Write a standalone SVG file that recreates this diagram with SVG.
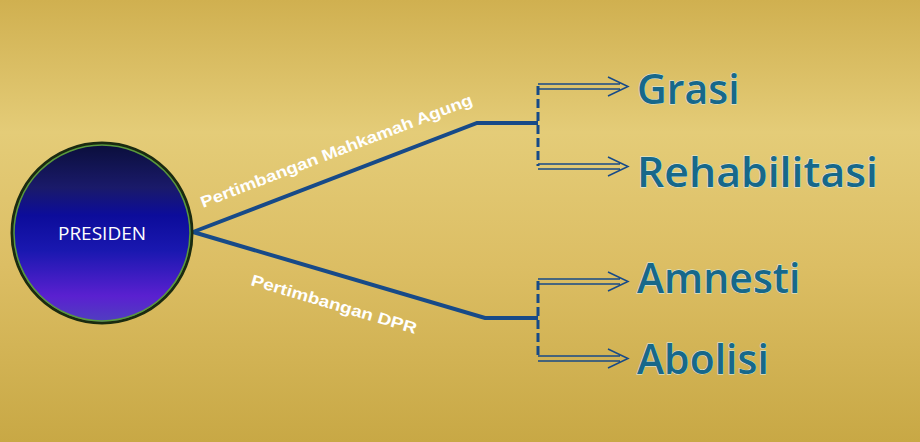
<svg xmlns="http://www.w3.org/2000/svg" width="920" height="442" viewBox="0 0 920 442">
<defs>
<linearGradient id="bg" x1="0" y1="0" x2="0" y2="1">
<stop offset="0" stop-color="#d0b050"/><stop offset="0.3" stop-color="#e4cc78"/><stop offset="0.6" stop-color="#dcbe64"/><stop offset="1" stop-color="#c8a845"/>
</linearGradient>
<linearGradient id="cg" x1="0" y1="0" x2="0" y2="1">
<stop offset="0" stop-color="#0a0e3a"/><stop offset="0.25" stop-color="#1a1a6a"/><stop offset="0.4" stop-color="#0c0c9a"/><stop offset="0.6" stop-color="#1a18b0"/><stop offset="0.85" stop-color="#5a20d0"/><stop offset="1" stop-color="#5040c0"/>
</linearGradient>
<style>
.ln{stroke:#174a88;stroke-width:4;fill:none}
.ds{stroke:#174a88;stroke-width:3;fill:none;stroke-dasharray:9,4}
.ar{stroke:#174a88;stroke-width:1.5;fill:none}
.big{font-family:"Open Sans","DejaVu Sans",sans-serif;font-size:41px;font-weight:600;fill:#17688a;stroke:#d8f0f0;stroke-width:0.8;paint-order:stroke}
.lb{font-family:"Liberation Sans",Arial,sans-serif;font-size:16px;font-weight:bold;fill:#ffffff}
</style>
</defs>
<rect width="920" height="442" fill="url(#bg)"/>
<g id="connectors">
<path class="ln" d="M193 232 L477 123 L538 123"/>
<path class="ln" d="M193 232 L485 318 L538 318"/>
<path class="ds" d="M538 86 V166"/>
<path class="ds" d="M538 281 V358"/>
<path class="ar" d="M538 84 H620 M538 89 H620 M608 77 L628 86.5 L608 96"/>
<path class="ar" d="M538 164 H620 M538 169 H620 M608 157 L628 166.5 L608 176"/>
<path class="ar" d="M538 279 H620 M538 284 H620 M608 272 L628 281.5 L608 291"/>
<path class="ar" d="M538 356 H620 M538 361 H620 M608 349 L628 358.5 L608 368"/>
</g>
<g id="presiden">
<circle cx="102" cy="233" r="90" fill="url(#cg)" stroke="#1a2a10" stroke-width="3"/>
<circle cx="102" cy="233" r="88" fill="none" stroke="#5a9a3a" stroke-width="1.5"/>
<text x="102" y="240" text-anchor="middle" font-family="'Open Sans','DejaVu Sans',sans-serif" font-size="19" fill="#ffffff">PRESIDEN</text>
</g>
<g id="label-ma"><text class="lb" transform="translate(203,208) rotate(-21)" textLength="290" lengthAdjust="spacingAndGlyphs">Pertimbangan Mahkamah Agung</text></g>
<g id="label-dpr"><text class="lb" transform="translate(250,285) rotate(16.5)" textLength="172" lengthAdjust="spacingAndGlyphs">Pertimbangan DPR</text></g>
<g id="grasi"><text class="big" x="637" y="104">Grasi</text></g>
<g id="rehabilitasi"><text class="big" x="637" y="187" textLength="241" lengthAdjust="spacingAndGlyphs">Rehabilitasi</text></g>
<g id="amnesti"><text class="big" x="637" y="293">Amnesti</text></g>
<g id="abolisi"><text class="big" x="637" y="374">Abolisi</text></g>
</svg>
